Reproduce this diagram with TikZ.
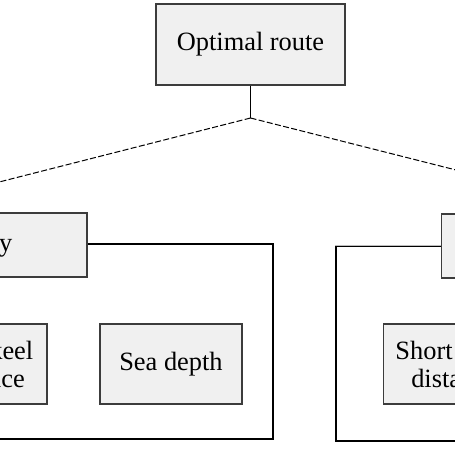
\documentclass[tikz,border=0pt]{standalone}
\usepackage{fontspec}
\setmainfont{Liberation Serif}
\definecolor{boxfill}{HTML}{F0F0F0}
\definecolor{boxline}{HTML}{3C3C3C}
\definecolor{paleline}{HTML}{BDBDBD}
\begin{document}
\begin{tikzpicture}[x=0.5pt,y=-0.5pt,
  box/.style={draw=boxline, fill=boxfill, line width=0.7pt, inner sep=0pt, align=center, font=\fontsize{13.2}{14}\selectfont},
  frame/.style={draw=black, line width=0.6pt, inner sep=0pt, minimum height=97.5pt},
  dashlink/.style={draw=black, line width=0.5pt, dash pattern=on 3pt off 1.2pt},
  link/.style={draw=black, line width=0.6pt}]
\useasboundingbox (0,0) rectangle (455,455);
\clip (0,0) rectangle (455,455);
% containers
\node[frame, minimum width=515pt] (lframe) at (-242,341.5) {};
\node[frame, minimum width=418pt] (rframe) at (754,343.5) {};
\draw[paleline, line width=0.6pt] (rframe.north west) -- (rframe.north east);
% connectors
\coordinate (junc) at (250.5,118);
\draw[dashlink] (junc) -- (lframe.north);
\draw[dashlink] (junc) -- (rframe.north);
% boxes
\node[box, minimum width=94.5pt, minimum height=40.5pt] (top) at (250.5,44.5) {Optimal route};
\draw[link] (top.south) -- (junc);
\node[box, minimum width=108.5pt, minimum height=32pt] (safety) at (-21.5,245) {Safety};
\node[box, minimum width=108.5pt, minimum height=32pt] (economy) at (550,246) {Economy};
\node[box, minimum width=72pt, minimum height=40pt] (ukc) at (-25,364) {Under keel\\clearance};
\node[box, minimum width=71pt, minimum height=40pt] (depth) at (171,364) {Sea depth};
\node[box, minimum width=71pt, minimum height=40pt] (short) at (454.5,364) {Short route\\distance};
\end{tikzpicture}
\end{document}
